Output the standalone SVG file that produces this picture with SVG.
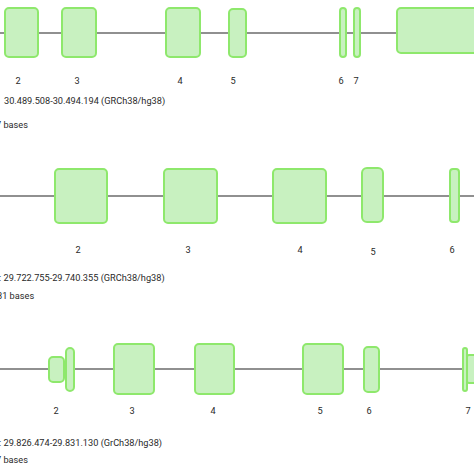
<svg xmlns="http://www.w3.org/2000/svg" width="474" height="474" viewBox="0 0 474 474">
<style>
.ex{fill:#c8f1c0;stroke:#8ee86c;stroke-width:2}
.ln{stroke:#6b6b6b;stroke-width:1.5}
text{font-family:Roboto,"Liberation Sans",sans-serif;font-size:9.2px;fill:#2a2a2a}
.lb{text-anchor:middle}
</style>
<rect width="474" height="474" fill="#fff"/>
<g id="connectors">
<line class="ln" x1="0" y1="33" x2="397" y2="33"/>
<line class="ln" x1="0" y1="196" x2="474" y2="196"/>
<line class="ln" x1="0" y1="369" x2="464" y2="369"/>
</g>
<g id="row1">
<g id="r1e2"><rect class="ex" x="5" y="8" width="33" height="49" rx="4"/><text class="lb" x="18" y="84">2</text></g>
<g id="r1e3"><rect class="ex" x="62" y="8" width="34" height="49" rx="4"/><text class="lb" x="77" y="84">3</text></g>
<g id="r1e4"><rect class="ex" x="166" y="8" width="34" height="49" rx="4"/><text class="lb" x="180" y="84">4</text></g>
<g id="r1e5"><rect class="ex" x="229" y="9" width="17" height="48" rx="4"/><text class="lb" x="233" y="84">5</text></g>
<g id="r1e6"><rect class="ex" x="340" y="8" width="6" height="49" rx="3"/><text class="lb" x="341" y="84">6</text></g>
<g id="r1e7"><rect class="ex" x="354" y="8" width="6" height="49" rx="3"/><text class="lb" x="356" y="84">7</text></g>
<g id="r1e8"><rect class="ex" x="397" y="8" width="82" height="45" rx="4"/></g>
<text x="4" y="104">30.489.508-30.494.194 (GRCh38/hg38)</text>
<text x="-4" y="128">7 bases</text>
</g>
<g id="row2">
<g id="r2e2"><rect class="ex" x="55" y="169" width="52" height="54" rx="4"/><text class="lb" x="78" y="253">2</text></g>
<g id="r2e3"><rect class="ex" x="164" y="169" width="53" height="54" rx="4"/><text class="lb" x="188" y="253">3</text></g>
<g id="r2e4"><rect class="ex" x="273" y="169" width="53" height="54" rx="4"/><text class="lb" x="300" y="253">4</text></g>
<g id="r2e5"><rect class="ex" x="362" y="168" width="21" height="54" rx="5"/><text class="lb" x="373" y="255">5</text></g>
<g id="r2e6"><rect class="ex" x="450" y="169" width="9" height="53" rx="3"/><text class="lb" x="452" y="253">6</text></g>
<text x="-1" y="281">: 29.722.755-29.740.355 (GRCh38/hg38)</text>
<text x="-3" y="299">81 bases</text>
</g>
<g id="row3">
<g id="r3e2"><rect class="ex" x="49" y="357" width="15" height="25" rx="4"/><rect class="ex" x="66" y="348" width="8" height="43" rx="4"/><text class="lb" x="56" y="414">2</text></g>
<g id="r3e3"><rect class="ex" x="114" y="344" width="40" height="50" rx="4"/><text class="lb" x="132" y="414">3</text></g>
<g id="r3e4"><rect class="ex" x="195" y="344" width="39" height="50" rx="4"/><text class="lb" x="213" y="414">4</text></g>
<g id="r3e5"><rect class="ex" x="303" y="344" width="40" height="50" rx="4"/><text class="lb" x="320" y="414">5</text></g>
<g id="r3e6"><rect class="ex" x="364" y="347" width="15" height="45" rx="4"/><text class="lb" x="369" y="414">6</text></g>
<g id="r3e7"><rect class="ex" x="467" y="355" width="10" height="28" rx="2"/><rect class="ex" x="463" y="348" width="4" height="43" rx="2"/><text class="lb" x="468" y="414">7</text></g>
<text x="-1" y="446">: 29.826.474-29.831.130 (GrCh38/hg38)</text>
<text x="-4" y="463">7 bases</text>
</g>
</svg>
